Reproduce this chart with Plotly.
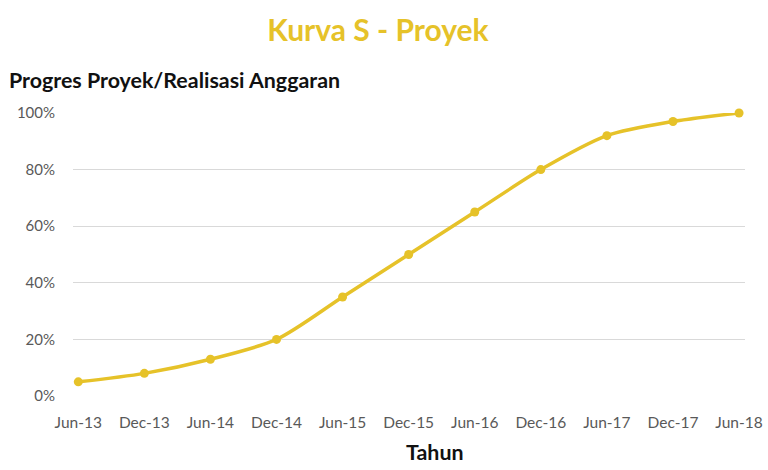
import plotly.graph_objects as go

# data
periods = ["Jun-13", "Dec-13", "Jun-14", "Dec-14", "Jun-15", "Dec-15",
           "Jun-16", "Dec-16", "Jun-17", "Dec-17", "Jun-18"]
progress = [0.05, 0.08, 0.13, 0.20, 0.35, 0.50, 0.65, 0.80, 0.92, 0.97, 1.00]
y_ticks = [0, 0.2, 0.4, 0.6, 0.8, 1.0]

GOLD = "#E6C229"
FONT = "Lato, 'Open Sans', sans-serif"

fig = go.Figure()
fig.add_trace(go.Scatter(
    x=list(range(len(periods))),
    y=progress,
    mode="lines+markers",
    line=dict(color=GOLD, width=3.5, shape="spline", smoothing=0.8),
    marker=dict(color=GOLD, size=9),
    cliponaxis=False,
    showlegend=False,
))

fig.update_layout(
    width=768, height=470,
    margin=dict(l=73, r=23, t=113, b=74),
    paper_bgcolor="white", plot_bgcolor="white",
    font=dict(family=FONT, color="#595959", size=15),
    title=dict(text="<b>Kurva S - Proyek</b>", x=378 / 768, xanchor="center",
               y=1 - 30 / 470, yanchor="middle",
               font=dict(family=FONT, size=30, color=GOLD)),
    xaxis=dict(
        tickmode="array", tickvals=list(range(len(periods))), ticktext=periods,
        range=[-0.08, 10.09], showgrid=False, zeroline=False, showline=False,
        ticks="", ticklabelstandoff=15, tickfont=dict(size=15.5, color="#595959"),
        automargin=False,
    ),
    yaxis=dict(
        range=[0, 1], tickvals=y_ticks, tickformat=".0%",
        showgrid=True, gridcolor="#D9D9D9", gridwidth=1.2, zeroline=False,
        showline=False, ticks="", ticklabelstandoff=17,
        tickfont=dict(size=15, color="#595959"), automargin=False,
    ),
    annotations=[
        dict(text="<b>Progres Proyek/Realisasi Anggaran</b>", xref="paper", yref="paper",
             x=-66 / 672, y=1 + 33 / 283, xanchor="left", yanchor="middle", showarrow=False,
             font=dict(family=FONT, size=21.4, color="#111111")),
        dict(text="<b>Tahun</b>", xref="paper", yref="paper",
             x=(434.5 - 73) / 672, y=-56 / 283, xanchor="center", yanchor="middle", showarrow=False,
             font=dict(family=FONT, size=21.4, color="#111111")),
    ],
)

# drop the default 8px body margin so the figure sits at the page origin
fig.write_html("out.html", config={"displayModeBar": False},
               post_script="document.body.style.margin='0';")
